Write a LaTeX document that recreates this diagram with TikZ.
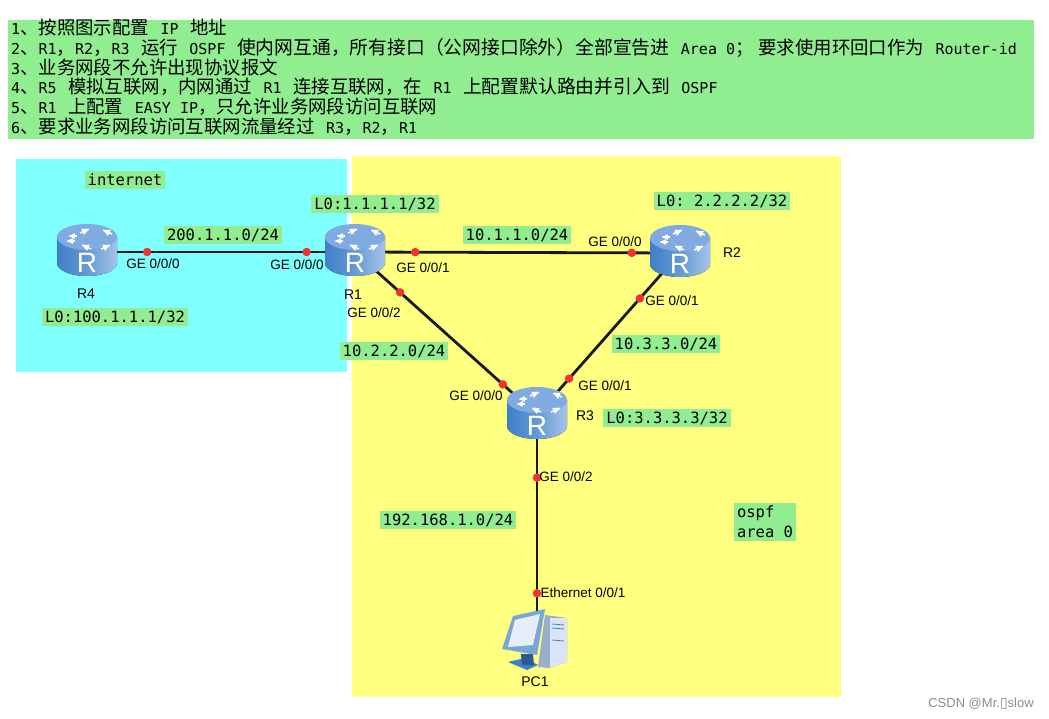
\documentclass[tikz,border=0pt]{standalone}
\usepackage{fontspec}
\setmainfont{Noto Sans CJK SC}
\setmonofont{DejaVu Sans Mono}
\setsansfont{Liberation Sans}
\newfontfamily\boxfont{DejaVu Sans}
\usepackage{tikz}
\usetikzlibrary{arrows}
\definecolor{notegreen}{RGB}{144,238,144}
\definecolor{netcyan}{RGB}{128,255,255}
\definecolor{netyellow}{RGB}{255,255,128}
\definecolor{iconblue}{RGB}{62,128,200}
\definecolor{iconlight}{RGB}{128,170,226}
\definecolor{spotred}{RGB}{240,50,50}
\newcommand{\lat}[1]{{\fontsize{15}{19.7}\ttfamily #1}}
\newcommand{\gp}{\hspace{11.5pt}}
\newcommand{\wide}[1]{{\fontsize{18.8}{19.7}\selectfont #1}}
\tikzset{
  tag/.style = {fill=notegreen, inner xsep=3pt, inner ysep=3pt, align=left,
    font=\fontsize{15.5}{20}\ttfamily},% green label
  port/.style = {inner sep=0pt, font=\fontsize{13.5}{15}\sffamily},
  devname/.style = {inner sep=0pt, font=\fontsize{14}{16}\sffamily},
  spot/.style = {circle, fill=spotred, draw=none, inner sep=0pt, minimum size=8.5pt},
  dev/.style = {inner sep=0pt, minimum size=0pt},
  link/.style = {line width=2.8pt, black!90},
  router/.pic = {
    \fill[left color=iconblue, right color=iconlight!70!white, middle color=iconblue!80!white]
      (-30,-13) -- (-30,13) arc[start angle=180,end angle=0,x radius=30,y radius=13] -- (30,-13) -- cycle;
    \fill[iconlight] (0,-13) ellipse[x radius=30,y radius=13];
    \foreach \a/\b in {-7/-21,14/-5} \draw[->,>=stealth',white,line width=1.5pt] (\a,\b+4) -- (\a+9,\b);
    \foreach \a/\b in {-5/-5,16/-20} \draw[->,>=stealth',white,line width=1.5pt] (\a+9,\b+4) -- (\a,\b);
    \foreach \a/\b in {-20/-9,-18/-14} \draw[->,>=stealth',white,line width=1.2pt] (\a+8,\b) -- (\a,\b);
    \node[inner sep=0pt, white, font=\fontsize{28}{30}\sffamily] at (0,13) {R};
  },
  computer/.pic = {
    \fill[black!25!iconblue!50!white] (8,-25) -- (30,-22) -- (30,22) -- (13,28) -- (1,27) -- cycle;
    \fill[iconlight!30!white] (13,-22) -- (30,-22) -- (30,22) -- (13,28) -- cycle;
    \fill[iconblue] (-29,22) -- (-12,18) -- (1,25) -- (-10,30) -- cycle;
    \fill[iconblue!70!black] (-16,14) -- (-4,14) -- (-3,25) -- (-15,25) -- cycle;
    \fill[iconblue!70!white] (-24,-24) -- (8,-31) -- (0,15) -- (-35,9) -- cycle;
    \fill[iconlight!20!white] (-22,-20) -- (3,-26) -- (-4,5) -- (-29,7) -- cycle;
    \draw[iconblue, line width=.8pt] (15,-16) -- (27,-15) (15,-12) -- (27,-11) (15,0) -- (27,1);
  }
}
\begin{document}
\begin{tikzpicture}[x=1pt,y=-1pt]
\useasboundingbox (0,0) rectangle (1049,719);
\fill[netcyan] (16,159) rectangle (347,372);
\fill[netyellow] (352,156) rectangle (841,697);
\fill[notegreen] (8,20) rectangle (1034,139);
\node[anchor=north west, inner sep=0pt, align=left, font=\fontsize{18.4}{19.7}\selectfont] (notes) at (11,19) {%
\lat{1}、按照图示配置\gp\lat{IP}\gp 地址\\
\lat{2}、\lat{R1}，\lat{R2}，\lat{R3}\gp 运行\gp\lat{OSPF}\gp\wide{使内网互通，所有接口（公网接口除外）全部宣告进}\gp\lat{Area 0}；\hspace{5pt}要求使用环回口作为\gp\lat{Router-id}\\
\lat{3}、业务网段不允许出现协议报文\\
\lat{4}、\lat{R5}\gp 模拟互联网，内网通过\gp\lat{R1}\gp 连接互联网，在\gp\lat{R1}\gp\wide{上配置默认路由并引入到}\gp\lat{OSPF}\\
\lat{5}、\lat{R1}\gp 上配置\gp\lat{EASY IP}，只允许业务网段访问互联网\\
\lat{6}、要求业务网段访问互联网流量经过\gp\lat{R3}，\lat{R2}，\lat{R1}};

\node[dev] (r4) at (87,252) {};
\node[dev] (r1) at (355,252) {};
\node[dev] (r2) at (680,253) {};
\node[dev] (r3) at (537,415) {};
\node[dev] (pc1) at (537,640) {};

\draw[link] (r4) -- node[spot,pos=.224] (s1) {} node[spot,pos=.82] (s2) {} (r1);
\draw[link] (r1) -- node[spot,pos=.185] (s3) {} node[spot,pos=.852] (s4) {} (r2);
\draw[link] (r1) -- node[spot,pos=.247] (s5) {} node[spot,pos=.813] (s6) {} (r3);
\draw[link] (r2) -- node[spot,pos=.28] (s7) {} node[spot,pos=.776] (s8) {} (r3);
\draw[link] (r3) -- node[spot,pos=.278] (s9) {} node[spot,pos=.793] (s10) {} (pc1);

\foreach \dev in {r1,r2,r3,r4} \pic[shift={(0,-2)}] at (\dev) {router};
\pic at (pc1) {computer};

\node[tag] (inet) at (125,180) {internet};
\node[tag] (lo1) at (375,204) {L0:1.1.1.1/32};
\node[tag] (lo2) at (722,201) {L0: 2.2.2.2/32};
\node[tag] (lo3) at (667,418) {L0:3.3.3.3/32};
\node[tag] (lo4) at (115,317) {L0:100.1.1.1/32};
\node[tag] (n200) at (223,235) {200.1.1.0/24};
\node[tag] (n101) at (517,235) {10.1.1.0/24};
\node[tag] (n102) at (394,351) {10.2.2.0/24};
\node[tag] (n103) at (666,344) {10.3.3.0/24};
\node[tag] (n192) at (448,520) {192.168.1.0/24};
\node[tag] (area) at (765,522) {ospf\\area 0};

\node[port] (p1) at (153,264) {GE 0/0/0};
\node[port] (p2) at (297,265) {GE 0/0/0};
\node[port] (p3) at (423,268) {GE 0/0/1};
\node[port] (p4) at (374,313) {GE 0/0/2};
\node[port] (p5) at (615,242) {GE 0/0/0};
\node[port] (p6) at (672,301) {GE 0/0/1};
\node[port] (p7) at (605,386) {GE 0/0/1};
\node[port] (p8) at (476,396) {GE 0/0/0};
\node[port] (p9) at (566,477) {GE 0/0/2};
\node[port] (p10) at (583,593) {Ethernet 0/0/1};

\node[devname] (t4) at (86,294) {R4};
\node[devname] (t1) at (353,295) {R1};
\node[devname] (t2) at (732,253) {R2};
\node[devname] (t3) at (585,416) {R3};
\node[devname] (tpc) at (535,682) {PC1};

\node[inner sep=0pt, black!45, font=\fontsize{13}{15}\sffamily] (mark) at (981,704) {CSDN @Mr.{\boxfont\fontsize{14}{15}\selectfont ▯}slow};
\end{tikzpicture}
\end{document}
